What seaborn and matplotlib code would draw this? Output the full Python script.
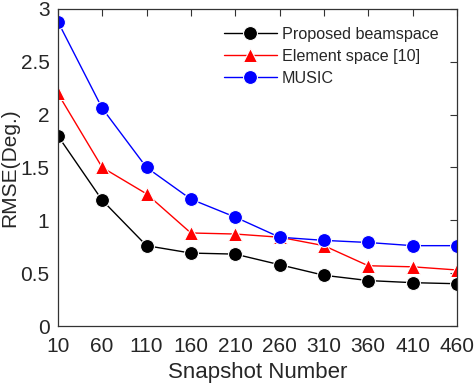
import matplotlib
matplotlib.use("Agg")
import matplotlib.pyplot as plt
import seaborn as sns
import pandas as pd

# data
snapshots = [10, 60, 110, 160, 210, 260, 310, 360, 410, 460]
proposed = [1.80, 1.19, 0.76, 0.69, 0.68, 0.58, 0.48, 0.43, 0.41, 0.40]
element = [2.20, 1.50, 1.25, 0.88, 0.87, 0.84, 0.76, 0.57, 0.56, 0.53]
music = [2.88, 2.06, 1.50, 1.20, 1.03, 0.84, 0.81, 0.79, 0.76, 0.76]
names = ["Proposed beamspace", "Element space [10]", "MUSIC"]

df = pd.concat([
    pd.DataFrame({"snap": snapshots, "rmse": vals, "method": name})
    for name, vals in zip(names, [proposed, element, music])
])

sns.set_style("white")
plt.rcParams["font.family"] = ["Liberation Sans", "DejaVu Sans"]

fig = plt.figure(figsize=(4.74, 3.84), dpi=100)
ax = fig.add_axes([0.122, 0.151, 0.842, 0.826])

sns.lineplot(data=df, x="snap", y="rmse", hue="method", style="method",
             palette=["black", "red", "blue"], markers=["o", "^", "o"],
             dashes=False, markersize=10, linewidth=1.0, ax=ax)

ax.set_xlim(10, 460)
ax.set_ylim(0, 3)
ax.set_xticks(snapshots)
ax.set_yticks([0, 0.5, 1, 1.5, 2, 2.5, 3])
ax.set_yticklabels(["0", "0.5", "1", "1.5", "2", "2.5", "3"])
ax.set_xlabel("Snapshot Number", fontsize=16, labelpad=4)
ax.set_ylabel("RMSE(Deg.)", fontsize=15, labelpad=1)
ax.tick_params(direction="in", length=5, labelsize=15, top=True, right=True,
               color="#333333")
ax.tick_params(axis="x", pad=8)
ax.tick_params(axis="y", pad=6)
for s in ax.spines.values():
    s.set_color("#333333")
    s.set_linewidth(0.9)

leg = ax.legend(loc="upper right", fontsize=11.6, frameon=False,
                handlelength=3.3, handletextpad=0.3, borderaxespad=0.5,
                labelspacing=0.45, bbox_to_anchor=(0.99, 0.99))

fig.savefig("out.png", dpi=100)
